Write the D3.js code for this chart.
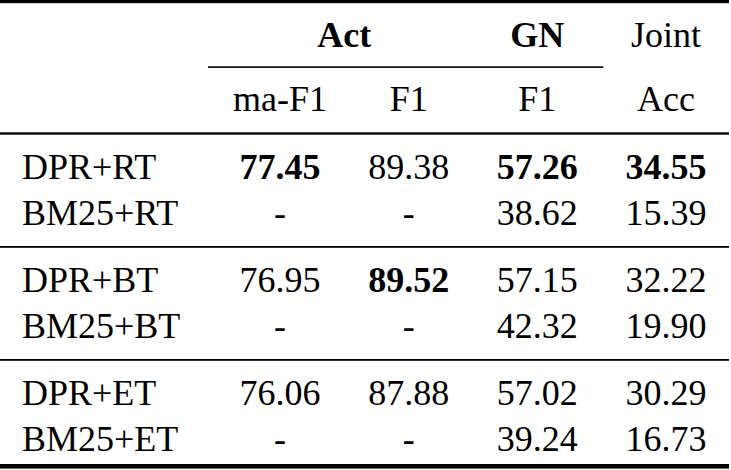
<!DOCTYPE html>
<html lang="en">
<head>
<meta charset="UTF-8">
<title>Retrieval results table</title>
<script src="https://cdn.jsdelivr.net/npm/d3@7"></script>
<style>
  body{margin:0;background:#fff;}
  svg text{font-size:36px;fill:#000;}
</style>
</head>
<body>
<div id="graphWrap"></div>
<script>
// table contents
var groups=["Act","GN","Joint"];
var columns=["ma-F1","F1","F1","Acc"];
var colGroup=[0,0,1,2];
var rowNames=[["DPR+RT","BM25+RT"],["DPR+BT","BM25+BT"],["DPR+ET","BM25+ET"]];
var actMaF1=[["77.45","-"],["76.95","-"],["76.06","-"]];
var actF1=[["89.38","-"],["89.52","-"],["87.88","-"]];
var gnF1=[["57.26","38.62"],["57.15","42.32"],["57.02","39.24"]];
var jointAcc=[["34.55","15.39"],["32.22","19.90"],["30.29","16.73"]];
// which cells are bold: [group][row][col]
var bold=[[[1,0,1,1],[0,0,0,0]],[[0,1,0,0],[0,0,0,0]],[[0,0,0,0],[0,0,0,0]]];

var W=731,H=470;
var FONT="'Liberation Serif', 'Tinos', 'DejaVu Serif', serif";
var svg=d3.select("#graphWrap").append("svg").attr("width",W).attr("height",H)
  .attr("font-family",FONT).style("font-family",FONT);

var x=d3.scalePoint().domain(d3.range(columns.length)).range([280,666]);
var yGroup=d3.scaleLinear().domain([0,2]).range([179,405]);
var rowStep=45.5;

var cells=[];
rowNames.forEach(function(g,gi){
  g.forEach(function(name,ri){
    var vals=[actMaF1[gi][ri],actF1[gi][ri],gnF1[gi][ri],jointAcc[gi][ri]];
    vals.forEach(function(v,ci){
      cells.push({g:gi,r:ri,c:ci,v:v,b:bold[gi][ri][ci]});
    });
  });
});

// rules
var rule=function(y,h,x0,x1){
  svg.append("rect").attr("x",x0||0).attr("y",y).attr("width",(x1||729)-(x0||0)).attr("height",h).attr("fill","#000");
};
rule(0,3.2);
rule(132.3,2.4);
rule(H-6,4.6);
[0,1].forEach(function(g){
  rule(yGroup(g)+rowStep+21.5,1.8);
});
rule(66.3,1.6,x(0)-72,x(2)+66);

// group headers
var groupX=function(gi){
  var cols=d3.range(columns.length).filter(function(c){return colGroup[c]===gi;});
  return d3.mean(cols,function(c){return x(c);});
};
svg.selectAll("text.grp").data(groups).enter().append("text")
  .attr("class","grp")
  .attr("x",function(d,i){return groupX(i);})
  .attr("y",47)
  .attr("text-anchor","middle")
  .style("font-weight",function(d,i){return i<2?"bold":"normal";})
  .text(function(d){return d;});

// sub headers
svg.selectAll("text.sub").data(columns).enter().append("text")
  .attr("class","sub")
  .attr("x",function(d,i){return x(i);})
  .attr("y",111)
  .attr("text-anchor","middle")
  .text(function(d){return d;});

// row labels
var labels=[];
rowNames.forEach(function(g,gi){g.forEach(function(n,ri){labels.push({g:gi,r:ri,n:n});});});
svg.selectAll("text.lab").data(labels).enter().append("text")
  .attr("class","lab")
  .attr("x",22)
  .attr("y",function(d){return yGroup(d.g)+d.r*rowStep;})
  .text(function(d){return d.n;});

// values
svg.selectAll("text.val").data(cells).enter().append("text")
  .attr("class","val")
  .attr("x",function(d){return x(d.c);})
  .attr("y",function(d){return yGroup(d.g)+d.r*rowStep;})
  .attr("text-anchor","middle")
  .style("font-weight",function(d){return d.b?"bold":"normal";})
  .text(function(d){return d.v;});
</script>
</body>
</html>
